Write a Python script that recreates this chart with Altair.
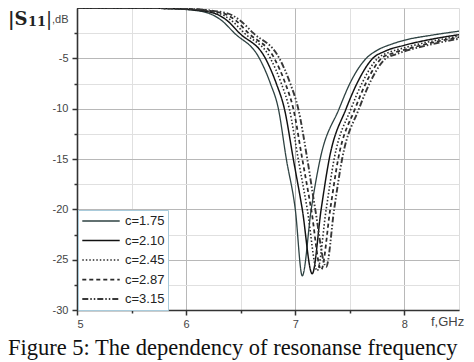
import altair as alt
import pandas as pd

NAMES = ["c=1.75", "c=2.10", "c=2.45", "c=2.87", "c=3.15"]

F_175 = [5.0, 5.5, 5.8, 6.0, 6.2, 6.32, 6.443, 6.671, 6.772, 6.845, 6.918, 7.0, 7.064, 7.146, 7.228, 7.402, 7.50, 7.65, 7.75, 7.88, 8.0, 8.25, 8.5]
DB_175 = [0, 0, -0.05, -0.15, -0.5, -1.2, -2.5, -5, -7.5, -10, -15, -20, -26.6, -20, -15, -10, -7.5, -5, -4.2, -3.6, -3.2, -2.7, -2.3]

F_210 = [5.0, 5.5, 5.8, 6.0, 6.25, 6.37, 6.489, 6.726, 6.826, 6.900, 6.982, 7.064, 7.155, 7.237, 7.311, 7.466, 7.565, 7.71, 7.82, 8.0, 8.25, 8.5]
DB_210 = [0, 0, -0.04, -0.12, -0.5, -1.2, -2.5, -5, -7.5, -10, -15, -20, -26.4, -20, -15, -10, -7.5, -5, -4.3, -3.7, -3.1, -2.65]

F_245 = [5.0, 5.5, 5.8, 6.0, 6.29, 6.41, 6.534, 6.772, 6.872, 6.945, 7.027, 7.110, 7.201, 7.283, 7.356, 7.511, 7.61, 7.755, 7.86, 8.0, 8.25, 8.5]
DB_245 = [0, 0, -0.03, -0.1, -0.5, -1.2, -2.5, -5, -7.5, -10, -15, -20, -26.1, -20, -15, -10, -7.5, -5, -4.4, -3.95, -3.3, -2.8]

F_287 = [5.0, 5.5, 5.8, 6.0, 6.33, 6.45, 6.571, 6.808, 6.909, 6.982, 7.064, 7.146, 7.237, 7.320, 7.393, 7.548, 7.645, 7.79, 7.89, 8.0, 8.25, 8.5]
DB_287 = [0, 0, -0.03, -0.08, -0.5, -1.2, -2.5, -5, -7.5, -10, -15, -20, -26.0, -20, -15, -10, -7.5, -5, -4.5, -4.15, -3.45, -2.9]

F_315 = [5.0, 5.5, 5.8, 6.0, 6.37, 6.49, 6.616, 6.854, 6.954, 7.027, 7.110, 7.183, 7.283, 7.356, 7.429, 7.584, 7.68, 7.83, 7.92, 8.0, 8.25, 8.5]
DB_315 = [0, 0, -0.02, -0.07, -0.5, -1.2, -2.5, -5, -7.5, -10, -15, -20, -25.7, -20, -15, -10, -7.5, -5, -4.6, -4.3, -3.6, -3.05]

FREQS = [F_175, F_210, F_245, F_287, F_315]
DBS = [DB_175, DB_210, DB_245, DB_287, DB_315]

X_TICKS = [5, 5.5, 6, 6.5, 7, 7.5, 8]
Y_TICKS = [-2.5, -5, -7.5, -10, -12.5, -15, -17.5, -20, -22.5, -25, -27.5, -30]

CAPTION = "Figure 5: The dependency of resonanse frequency"
X_TITLE = "f,GHz"

rows = []
for name, fs, ds in zip(NAMES, FREQS, DBS):
    for i, (f, d) in enumerate(zip(fs, ds)):
        rows.append({"series": name, "f": f, "db": d, "order": i})
df = pd.DataFrame(rows)

W, H = 382, 302

major_x = "datum.value % 1 === 0"
major_y = "datum.value % 5 === 0"

xaxis = alt.Axis(
    values=X_TICKS,
    title=None,
    labelExpr="datum.value % 1 === 0 ? '' + datum.value : ''",
    grid=True,
    gridColor={"condition": {"test": major_x, "value": "#b8b8b8"}, "value": "#e0e0e0"},
    tickSize={"condition": {"test": major_x, "value": 5}, "value": 3},
    tickColor="#333",
    tickWidth=1.5,
    domainColor="#333",
    domainWidth=1.6,
    labelFont="Liberation Sans",
    labelFontSize=11,
    labelColor="#444",
    labelPadding=3,
)
yaxis = alt.Axis(
    values=Y_TICKS,
    title=None,
    labelExpr="datum.value % 5 === 0 ? '' + datum.value : ''",
    grid=True,
    gridColor={"condition": {"test": major_y, "value": "#b8b8b8"}, "value": "#e0e0e0"},
    tickSize={"condition": {"test": major_y, "value": 5}, "value": 3},
    tickColor="#333",
    tickWidth=1.5,
    domainColor="#333",
    domainWidth=1.6,
    labelFont="Liberation Sans",
    labelFontSize=11,
    labelColor="#444",
    labelPadding=4,
)

lines = alt.Chart(df).mark_line(interpolate="monotone", clip=True).encode(
    x=alt.X("f:Q", scale=alt.Scale(domain=[5, 8.5], nice=False, zero=False), axis=xaxis),
    y=alt.Y("db:Q", scale=alt.Scale(domain=[-30, 0], nice=False, zero=False), axis=yaxis),
    order="order:Q",
    color=alt.Color(
        "series:N",
        sort=NAMES,
        scale=alt.Scale(domain=NAMES, range=["#2e4242", "#111111", "#2a2a2a", "#2a2a2a", "#383838"]),
        legend=alt.Legend(
            orient="none", legendX=1, legendY=202, title=None,
            symbolType="stroke", symbolSize=1400, clipHeight=16,
            labelFont="Liberation Sans", labelFontSize=13, labelColor="#222",
            fillColor="white", strokeColor="#a9cbdb", padding=3, rowPadding=3.5,
        ),
    ),
    strokeDash=alt.StrokeDash(
        "series:N", sort=NAMES,
        scale=alt.Scale(domain=NAMES, range=[[1, 0], [1, 0], [1.5, 2], [4, 3], [6, 2, 1.5, 2, 1.5, 2]]),
        legend=None,
    ),
    strokeWidth=alt.StrokeWidth(
        "series:N", sort=NAMES,
        scale=alt.Scale(domain=NAMES, range=[1.3, 1.9, 1.5, 1.3, 1.3]),
        legend=None,
    ),
)

def txt(s, x, y, **kw):
    return alt.Chart(pd.DataFrame({"t": [s]})).mark_text(**kw).encode(
        x=alt.value(x), y=alt.value(y), text="t:N"
    )

t1 = txt("|S", -69, 17, font="DejaVu Serif", fontSize=18, fontWeight="bold", align="left", baseline="alphabetic", color="#222")
t2 = txt("11", -49, 18, font="DejaVu Serif", fontSize=13, fontWeight="bold", align="left", baseline="alphabetic", color="#222")
t3 = txt("|", -31, 17, font="DejaVu Serif", fontSize=18, align="left", baseline="alphabetic", color="#222")
t4 = txt(",dB", -25, 15, font="Liberation Sans", fontSize=11, align="left", baseline="alphabetic", color="#444")
t5 = txt(X_TITLE, 354, 314, font="Liberation Sans", fontSize=13, align="left", baseline="middle", color="#444")
t6 = txt(CAPTION, -69, 347, font="Liberation Serif", fontSize=22.5, align="left", baseline="alphabetic", color="#111")

chart = alt.layer(lines, t1, t2, t3, t4, t5, t6).properties(
    width=W, height=H,
    autosize=alt.AutoSizeParams(type="none"),
    padding={"left": 69, "top": 0, "right": 7, "bottom": 52},
).configure_view(stroke="#444", strokeWidth=1.5).configure(background="white")

chart.save("out.html", embed_options={"renderer": "svg", "actions": False})
